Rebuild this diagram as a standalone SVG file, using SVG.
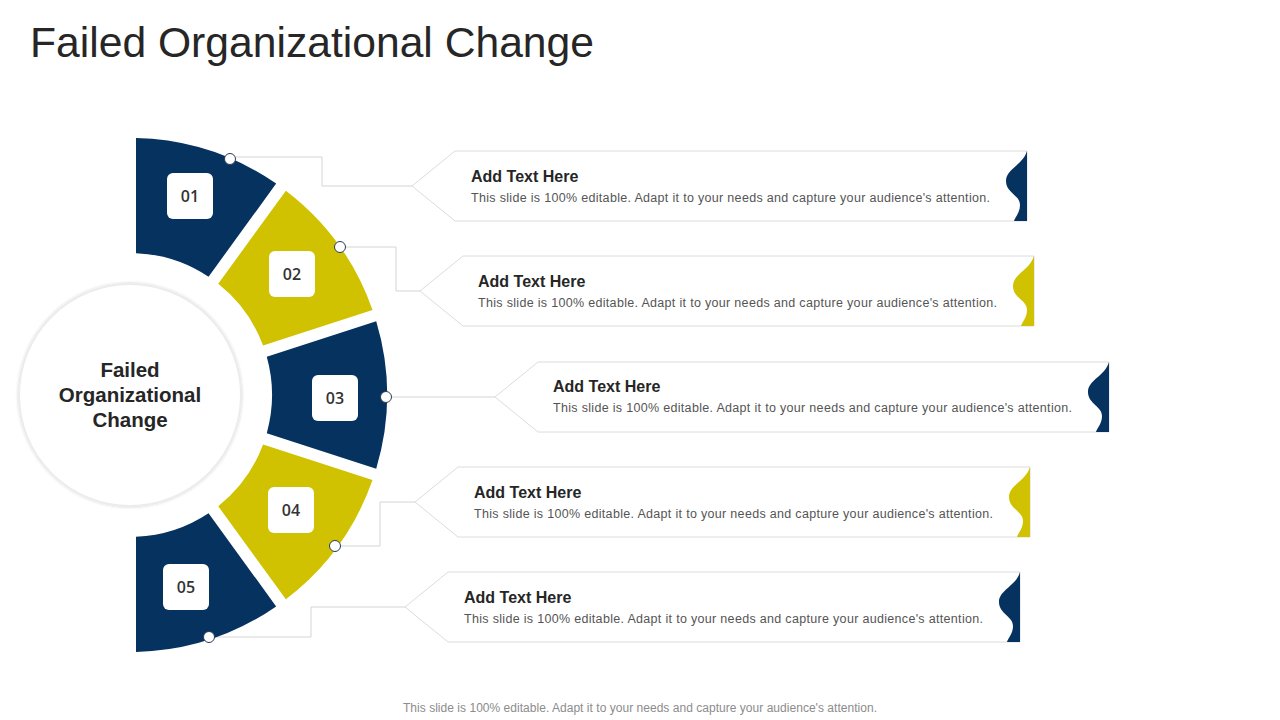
<svg xmlns="http://www.w3.org/2000/svg" width="1280" height="720" viewBox="0 0 1280 720">
<style>
.navy{fill:#06325f}
.yel{fill:#d0c200}
.conn{fill:none;stroke:#d4d4d4;stroke-width:1}
.dot{fill:#fff;stroke:#2a3b55;stroke-width:1}
.box{fill:#fff;stroke:#dcdcdc;stroke-width:1}
.num{fill:#fff}
.numt{font-family:"Open Sans","Liberation Sans",sans-serif;font-weight:600;font-size:16px;fill:#333;text-anchor:middle}
.ttl{font-family:"Liberation Sans",Arial,sans-serif;font-weight:bold;font-size:16px;fill:#262626}
.body{font-family:"Liberation Sans",Arial,sans-serif;font-size:12.5px;fill:#555}
.ctr{font-family:"Liberation Sans",Arial,sans-serif;font-weight:bold;font-size:20.5px;fill:#262626;text-anchor:middle}
</style>
<defs>
<filter id="sh" x="-10%" y="-10%" width="120%" height="120%">
<feGaussianBlur in="SourceAlpha" stdDeviation="1.5"/>
<feComponentTransfer><feFuncA type="linear" slope="0.18"/></feComponentTransfer>
<feMerge><feMergeNode/><feMergeNode in="SourceGraphic"/></feMerge>
</filter>
</defs>
<rect width="1280" height="720" fill="#fff"/>
<text x="30" y="57" font-family="'Liberation Sans',Arial,sans-serif" font-size="42" fill="#262626" textLength="564" lengthAdjust="spacingAndGlyphs">Failed Organizational Change</text>

<g id="connectors">
<path class="conn" d="M236,157 H322 V186 H412"/>
<path class="conn" d="M345,247 H396 V291 H420"/>
<path class="conn" d="M391,397 H495"/>
<path class="conn" d="M340,546 H380 V502 H415"/>
<path class="conn" d="M214,637 H311 V607 H405"/>
</g>

<g id="center">
<circle cx="130" cy="395" r="111" fill="#fff" stroke="#ececec" stroke-width="2" filter="url(#sh)"/>
<text class="ctr" x="130" y="377">Failed</text>
<text class="ctr" x="130" y="402">Organizational</text>
<text class="ctr" x="130" y="427">Change</text>
</g>

<g id="seg1">
<path class="navy" d="M136,138.07 A257,257 0 0 1 276.17,183.61 L208.54,276.70 A142,142 0 0 0 136,253.13 Z"/>
<rect class="num" x="167" y="173" width="46" height="46" rx="6"/>
<text class="numt" x="190" y="201.5">01</text>
<circle class="dot" cx="230" cy="159" r="5.5"/>
</g>
<g id="seg2">
<path class="yel" d="M285.87,190.67 A257,257 0 0 1 372.51,309.90 L263.08,345.45 A142,142 0 0 0 218.24,283.76 Z"/>
<rect class="num" x="269" y="251" width="46" height="46" rx="6"/>
<text class="numt" x="292" y="279.5">02</text>
<circle class="dot" cx="340" cy="247" r="5.5"/>
</g>
<g id="seg3">
<path class="navy" d="M376.22,321.32 A257,257 0 0 1 376.22,468.68 L266.78,433.13 A142,142 0 0 0 266.78,356.87 Z"/>
<rect class="num" x="312" y="375" width="46" height="46" rx="6"/>
<text class="numt" x="335" y="403.5">03</text>
<circle class="dot" cx="386" cy="397" r="5.5"/>
</g>
<g id="seg4">
<path class="yel" d="M372.51,480.10 A257,257 0 0 1 285.87,599.33 L218.24,506.24 A142,142 0 0 0 263.08,444.55 Z"/>
<rect class="num" x="268" y="487" width="46" height="46" rx="6"/>
<text class="numt" x="291" y="515.5">04</text>
<circle class="dot" cx="335" cy="546" r="5.5"/>
</g>
<g id="seg5">
<path class="navy" d="M276.17,606.39 A257,257 0 0 1 136,651.93 L136,536.87 A142,142 0 0 0 208.54,513.30 Z"/>
<rect class="num" x="163" y="564" width="46" height="46" rx="6"/>
<text class="numt" x="186" y="592.5">05</text>
<circle class="dot" cx="209" cy="637" r="5.5"/>
</g>

<g id="box1">
<path class="box" d="M412,186 L455,151 H1027 V221 H455 Z"/>
<path class="navy" d="M1027,151 C1023,165 1006,169 1006,181 C1006,193 1020,195 1020,205 C1020,213 1015,217 1014,221 L1027,221 Z"/>
<text class="ttl" x="471" y="182">Add Text Here</text>
<text class="body" x="471" y="202" textLength="519" lengthAdjust="spacing">This slide is 100% editable. Adapt it to your needs and capture your audience's attention.</text>
</g>
<g id="box2">
<path class="box" d="M420,291 L463,256 H1034 V326 H463 Z"/>
<path class="yel" d="M1034,256 C1030,270 1013,274 1013,286 C1013,298 1027,300 1027,310 C1027,318 1022,322 1021,326 L1034,326 Z"/>
<text class="ttl" x="478" y="287">Add Text Here</text>
<text class="body" x="478" y="307" textLength="519" lengthAdjust="spacing">This slide is 100% editable. Adapt it to your needs and capture your audience's attention.</text>
</g>
<g id="box3">
<path class="box" d="M495,397 L538,362 H1109 V432 H538 Z"/>
<path class="navy" d="M1109,362 C1105,376 1088,380 1088,392 C1088,404 1102,406 1102,416 C1102,424 1097,428 1096,432 L1109,432 Z"/>
<text class="ttl" x="553" y="392">Add Text Here</text>
<text class="body" x="553" y="412" textLength="519" lengthAdjust="spacing">This slide is 100% editable. Adapt it to your needs and capture your audience's attention.</text>
</g>
<g id="box4">
<path class="box" d="M415,502 L458,467 H1030 V537 H458 Z"/>
<path class="yel" d="M1030,467 C1026,481 1009,485 1009,497 C1009,509 1023,511 1023,521 C1023,529 1018,533 1017,537 L1030,537 Z"/>
<text class="ttl" x="474" y="498">Add Text Here</text>
<text class="body" x="474" y="518" textLength="519" lengthAdjust="spacing">This slide is 100% editable. Adapt it to your needs and capture your audience's attention.</text>
</g>
<g id="box5">
<path class="box" d="M405,607 L448,572 H1020 V642 H448 Z"/>
<path class="navy" d="M1020,572 C1016,586 999,590 999,602 C999,614 1013,616 1013,626 C1013,634 1008,638 1007,642 L1020,642 Z"/>
<text class="ttl" x="464" y="603">Add Text Here</text>
<text class="body" x="464" y="623" textLength="519" lengthAdjust="spacing">This slide is 100% editable. Adapt it to your needs and capture your audience's attention.</text>
</g>

<text x="403" y="712" font-family="'Liberation Sans',Arial,sans-serif" font-size="12" fill="#8c8c8c" textLength="474" lengthAdjust="spacing">This slide is 100% editable. Adapt it to your needs and capture your audience's attention.</text>
</svg>
